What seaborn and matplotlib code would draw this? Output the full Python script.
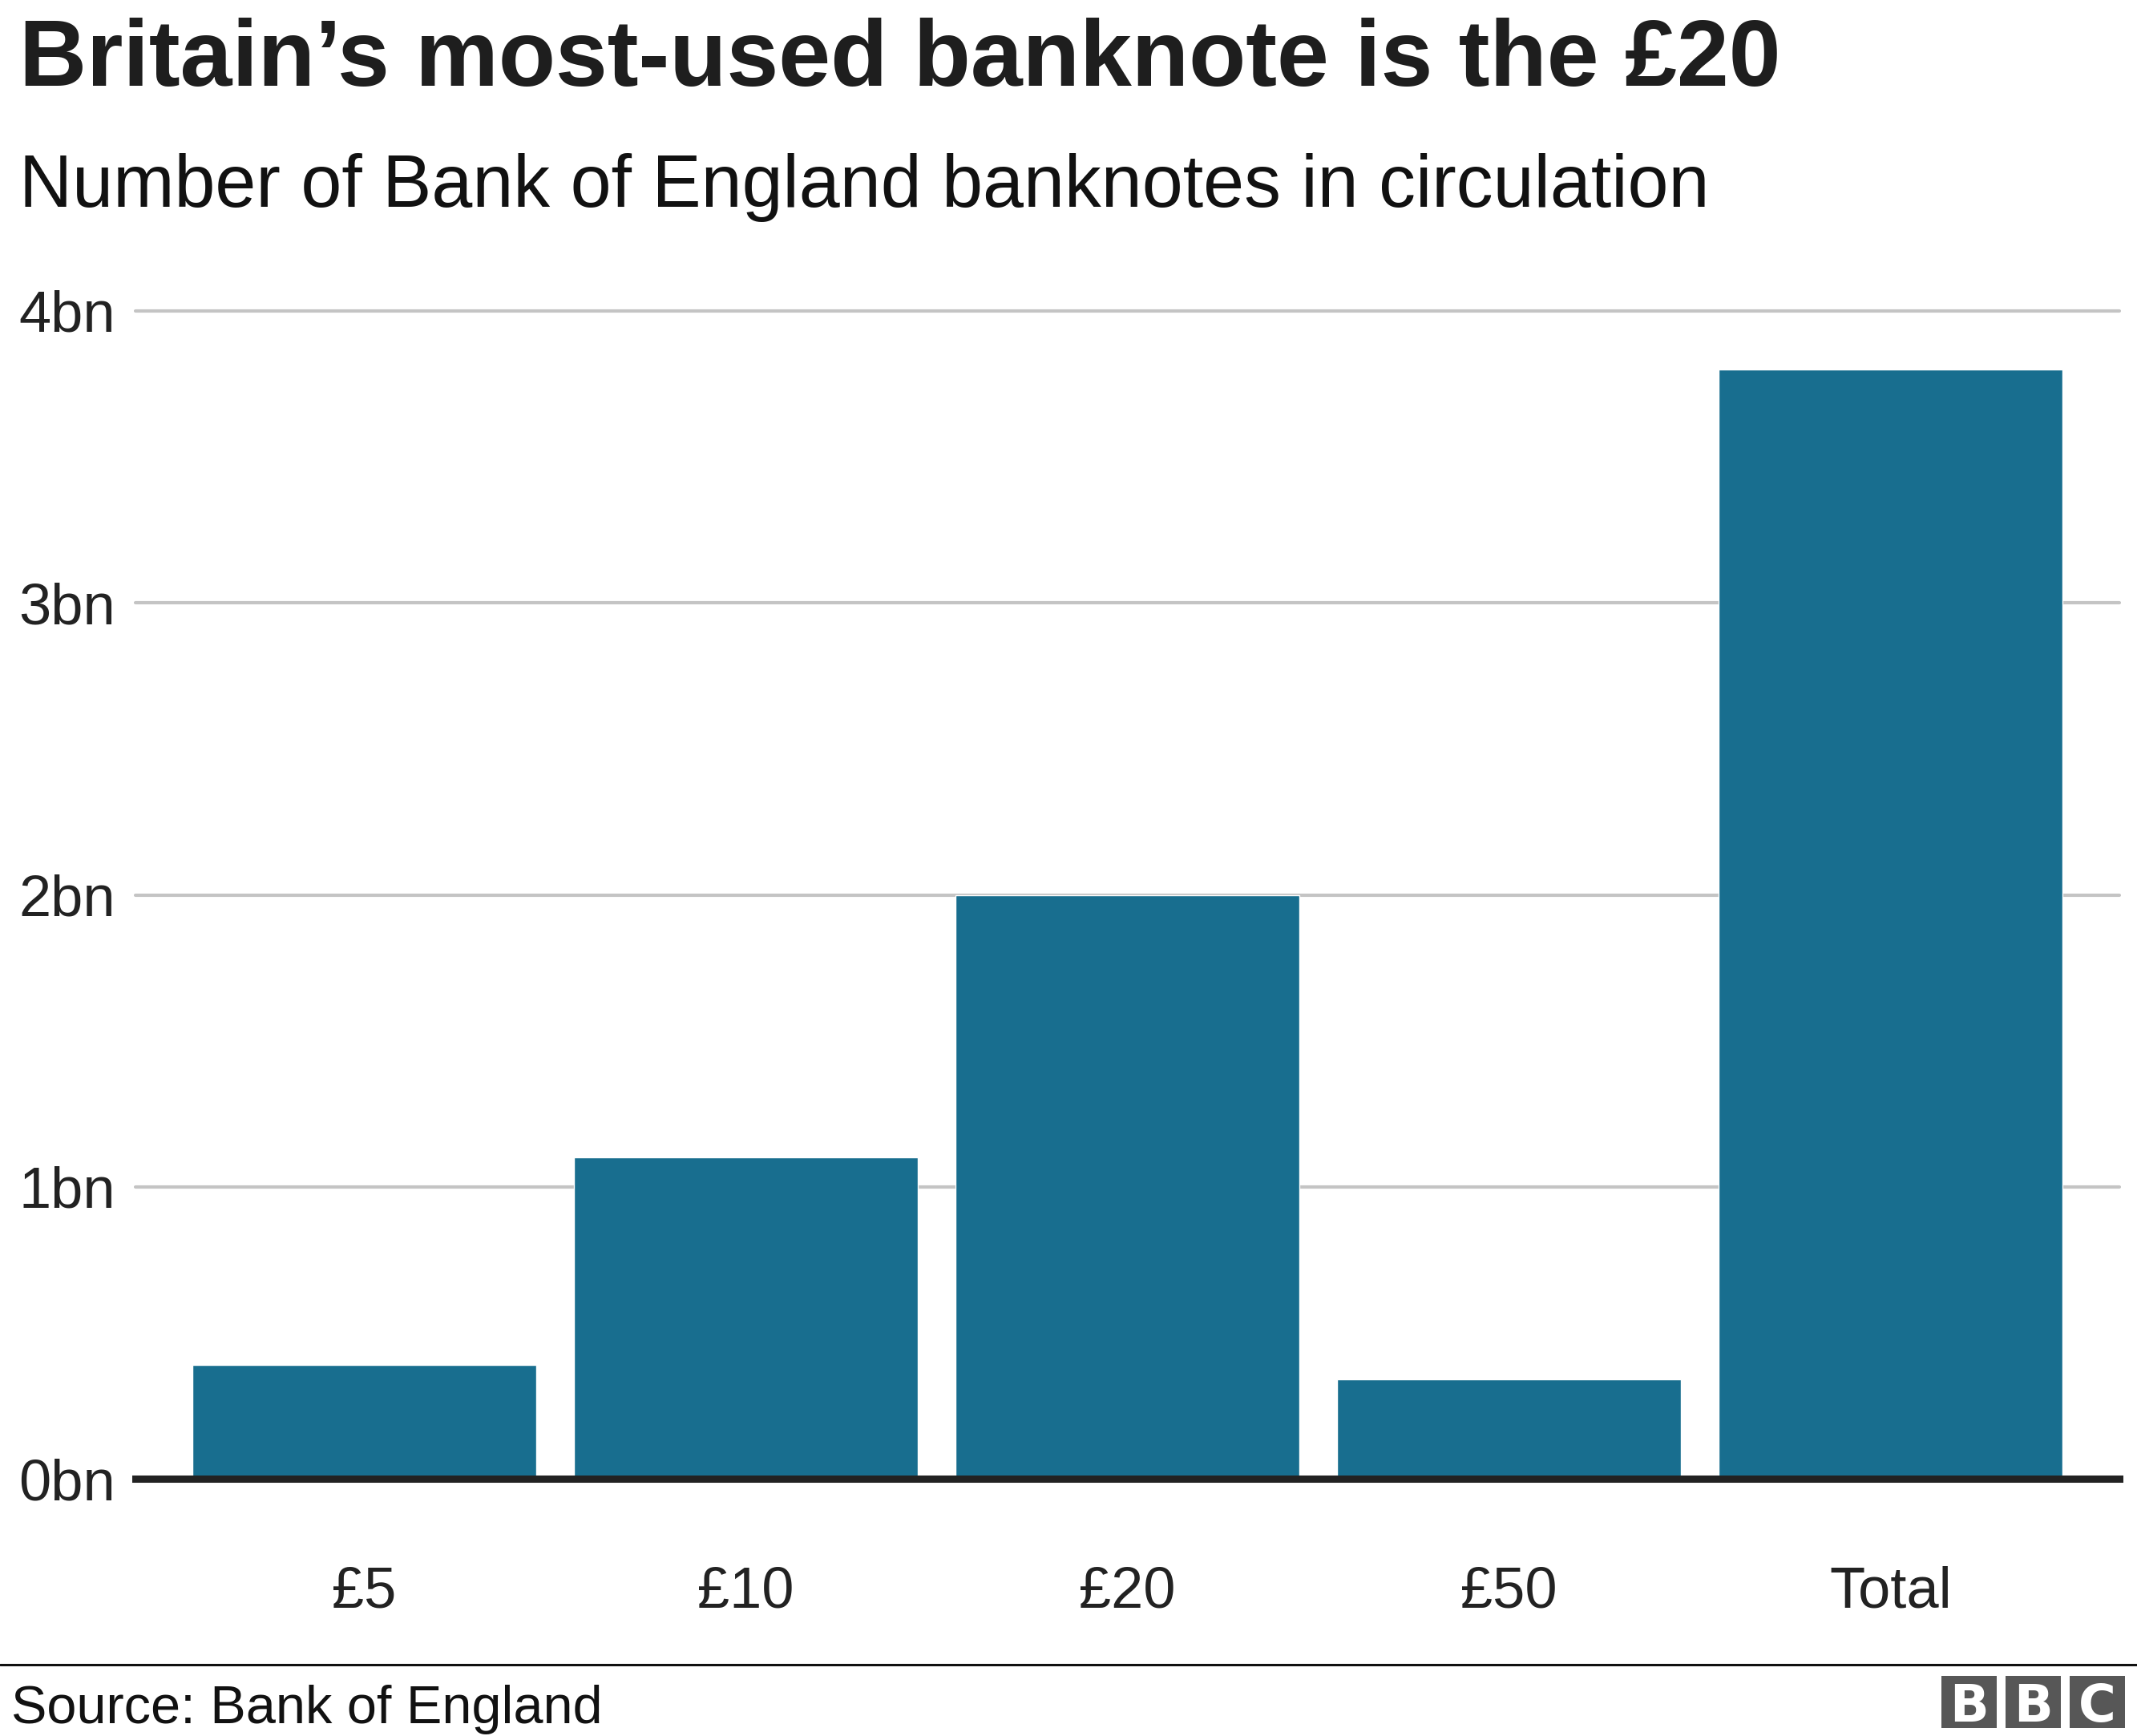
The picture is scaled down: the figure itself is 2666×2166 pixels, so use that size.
import matplotlib
matplotlib.use("Agg")
import matplotlib.pyplot as plt
from matplotlib.lines import Line2D
from matplotlib.patches import Rectangle
import seaborn as sns
import pandas as pd

categories = ["£5", "£10", "£20", "£50", "Total"]
values_bn = [0.39, 1.1, 2.0, 0.34, 3.8]
y_ticks = [0, 1, 2, 3, 4]
y_tick_labels = ["0bn", "1bn", "2bn", "3bn", "4bn"]
title = "Britain’s most-used banknote is the £20"
subtitle = "Number of Bank of England banknotes in circulation"
source = "Source: Bank of England"
logo_letters = ["B", "B", "C"]

sns.set_theme(style="white")
plt.rcParams['font.family'] = ['Liberation Sans', 'DejaVu Sans']

W, H = 2666, 2166
fig = plt.figure(figsize=(W / 100, H / 100), dpi=100)
fig.patch.set_facecolor("white")

ax = fig.add_axes([169 / W, 1 - 1845 / H, (2644 - 169) / W, (1845 - 388) / H])
df = pd.DataFrame({"note": categories, "count": values_bn})
sns.barplot(data=df, x="note", y="count", order=categories, color="#186e8f",
            saturation=1, width=0.9, ax=ax)
ax.set_xlim(-0.6, 4.6)
ax.set_ylim(0, 4)
ax.set_yticks(y_ticks)
ax.set_yticklabels(y_tick_labels)
ax.yaxis.grid(True, color="#c4c4c4", linewidth=3)
ax.xaxis.grid(False)
ax.set_axisbelow(True)
for line in ax.get_ygridlines():
    line.set_clip_on(False)
for s in ["top", "right", "left"]:
    ax.spines[s].set_visible(False)
ax.spines["bottom"].set_color("#222222")
ax.spines["bottom"].set_linewidth(6.5)
ax.spines["bottom"].set_zorder(3)
ax.set_facecolor("white")
ax.tick_params(axis="both", length=0, labelsize=52, labelcolor="#222222")
ax.tick_params(axis="y", pad=18)
ax.tick_params(axis="x", pad=78)
ax.set_xlabel("")
ax.set_ylabel("")

fig.text(24 / W, 1 - 107 / H, title, fontsize=84, fontweight="bold",
         color="#1e1e1e", va="baseline", ha="left")
fig.text(24 / W, 1 - 258 / H, subtitle, fontsize=66, color="#111111",
         va="baseline", ha="left")
fig.add_artist(Line2D([0, 1], [1 - 2077 / H] * 2, color="#111111", lw=2.2,
                      transform=fig.transFigure))
fig.text(14 / W, 1 - 2150 / H, source, fontsize=48, color="#111111",
         va="baseline", ha="left")

box_lefts = [2422, 2502, 2582]
for bx, letter in zip(box_lefts, logo_letters):
    fig.add_artist(Rectangle((bx / W, 1 - 2156 / H), 69 / W, 65 / H,
                             transform=fig.transFigure, color="#575757", lw=0))
    fig.text((bx + 34.5) / W, 1 - 2123.5 / H, letter, fontsize=46,
             fontweight="bold", color="white", ha="center", va="center_baseline",
             family=["DejaVu Sans"])

fig.savefig("out.png", dpi=100, facecolor="white")
